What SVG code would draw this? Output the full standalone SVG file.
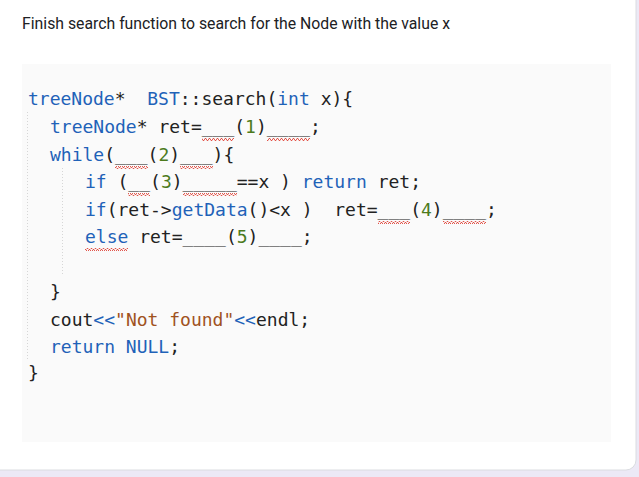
<svg xmlns="http://www.w3.org/2000/svg" width="639" height="477" viewBox="0 0 639 477">
<style>
.c{font-family:"DejaVu Sans Mono",monospace;font-size:18px;fill:#222;white-space:pre}
.k{fill:#1f62b8}.n{fill:#4c7a1c}.s{fill:#a0521e}
.g{stroke:#d6d6d6;stroke-width:1;stroke-dasharray:1 2}
</style>
<defs>
<pattern id="wave" width="4" height="3" patternUnits="userSpaceOnUse">
<path d="M0 2.5 L1 0.5 L2 0.5 L3 2.5 L4 2.5" fill="none" stroke="#e0443a" stroke-width="0.9"/>
</pattern>
</defs>
<rect width="639" height="477" fill="#ece9f6"/>
<rect x="-10" y="-10" width="646" height="480" rx="10" fill="#fff" stroke="#dadce0"/>
<text x="22" y="29" font-family="Roboto,sans-serif" font-size="15.8" fill="#202124">Finish search function to search for the Node with the value x</text>
<rect x="22" y="64" width="589" height="378" fill="#fafafa"/>
<g id="guides">
<line class="g" x1="27.5" y1="112" x2="27.5" y2="360"/>
<line class="g" x1="62.5" y1="168" x2="62.5" y2="275"/>
</g>
<g id="code" class="c" xml:space="preserve">
<text class="c" x="28" y="105"><tspan class="k">treeNode</tspan>*  <tspan class="k">BST</tspan>::search(<tspan class="k">int</tspan> x){</text>
<text class="c" x="50" y="133"><tspan class="k">treeNode</tspan>* ret=___(<tspan class="n">1</tspan>)____;</text>
<text class="c" x="50" y="161"><tspan class="k">while</tspan>(___(<tspan class="n">2</tspan>)___){</text>
<text class="c" x="85" y="188"><tspan class="k">if</tspan> (__(<tspan class="n">3</tspan>)_____==x ) <tspan class="k">return</tspan> ret;</text>
<text class="c" x="85" y="216"><tspan class="k">if</tspan>(ret-&gt;<tspan class="k">getData</tspan>()&lt;x )  ret=___(<tspan class="n">4</tspan>)____;</text>
<text class="c" x="85" y="243"><tspan class="k">else</tspan> ret=____(<tspan class="n">5</tspan>)____;</text>
<text class="c" x="50" y="298">}</text>
<text class="c" x="50" y="326">cout<tspan class="k">&lt;&lt;</tspan><tspan class="s">"Not found"</tspan><tspan class="k">&lt;&lt;</tspan>endl;</text>
<text class="c" x="50" y="353"><tspan class="k">return NULL</tspan>;</text>
<text class="c" x="28" y="379">}</text>
</g>
<g id="squiggles" fill="url(#wave)">
<rect x="202" y="138" width="32" height="3"/>
<rect x="267" y="138" width="43" height="3"/>
<rect x="115" y="166" width="33" height="3"/>
<rect x="180" y="166" width="33" height="3"/>
<rect x="128" y="193" width="22" height="3"/>
<rect x="183" y="193" width="54" height="3"/>
<rect x="378" y="221" width="32" height="3"/>
<rect x="443" y="221" width="43" height="3"/>
<rect x="85" y="248" width="43" height="3"/>
</g>
</svg>
